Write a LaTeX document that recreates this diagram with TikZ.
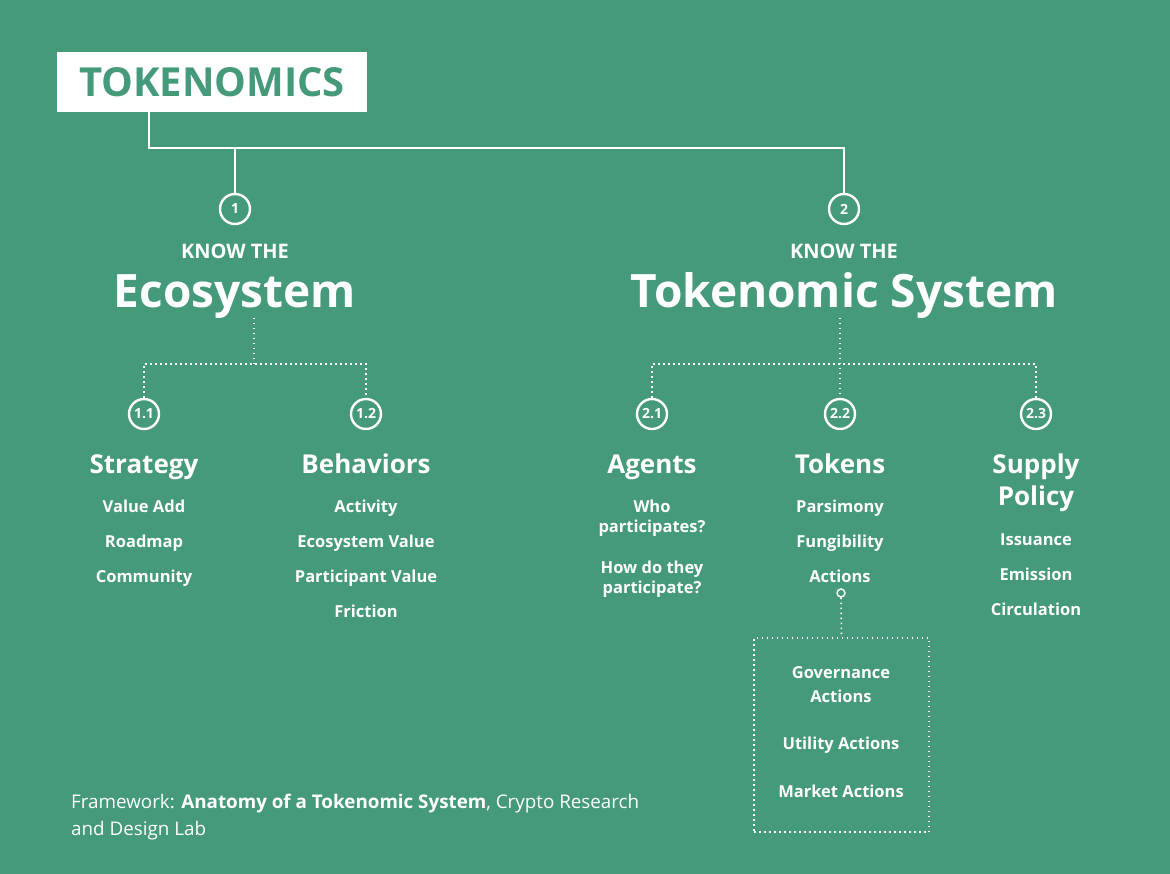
\documentclass[tikz,border=0pt]{standalone}
\usepackage{fontspec}
\setmainfont{Open Sans}
\usetikzlibrary{positioning}
\definecolor{tkgreen}{RGB}{68,154,121}

\begin{document}
\begin{tikzpicture}[x=1pt, y=-1pt,
		every node/.style = {text=white, align=center, inner sep=0pt},
		num/.style = {circle, draw=white, line width=2.4pt, minimum size=30pt,
				font=\bfseries\fontsize{14}{14}\selectfont},
		solidline/.style = {draw=white, line width=2.6pt},
		dotline/.style = {draw=white, line width=1.6pt, dash pattern=on 1.5pt off 3.5pt},
		know/.style = {anchor=base, font=\bfseries\fontsize{20}{20}\selectfont},
		big/.style = {anchor=base, font=\bfseries\fontsize{46}{46}\selectfont},
		head/.style = {anchor=base, font=\bfseries\fontsize{26}{32}\selectfont},
		item/.style = {anchor=base, font=\bfseries\fontsize{16.5}{20}\selectfont}]
	% background and margins
	\fill[tkgreen] (0,0) rectangle (1170,874);
	\useasboundingbox (0,0) rectangle (1170,874);

	\node[fill=white, text=tkgreen, minimum width=310pt, minimum height=60pt,
		font=\bfseries\fontsize{40}{40}\selectfont] (title) at (212,82) {TOKENOMICS};

	% level 1
	\node[num] (n1) at (235,209) {1};
	\node[num] (n2) at (844,209) {2};
	\coordinate (top2) at (844,148);
	\draw[solidline] ([xshift=92pt]title.south west) |- (top2) -- (n2.north);
	\draw[solidline] (n1.north) -- (n1.north |- top2);

	\node[know] (know1) at (235,259) {KNOW THE};
	\node[big] (eco) at (235,308) {Ecosystem};
	\node[know] (know2) at (844,259) {KNOW THE};
	\node[big] (toksys) at (844,308) {Tokenomic System};

	% level 2
	\node[num] (n11) at (144,414) {1.1};
	\node[num] (n12) at (366,414) {1.2};
	\node[num] (n21) at (652,414) {2.1};
	\node[num] (n22) at (840,414) {2.2};
	\node[num] (n23) at (1036,414) {2.3};

	\coordinate (eco fork) at (254,318);
	\coordinate (tok fork) at (840,318);
	\draw[dotline] (eco fork) -- ++(0,46) coordinate (eco bar);
	\draw[dotline] (n11.north) |- (eco bar) -| (n12.north);
	\draw[dotline] (tok fork) -- (n22.north);
	\draw[dotline] (n21.north) |- (tok fork |- eco bar) -| (n23.north);

	\node[head] (strategy) at (144,473) {Strategy};
	\node[head] (behaviors) at (366,473) {Behaviors};
	\node[head] (agents) at (652,473) {Agents};
	\node[head] (tokens) at (840,473) {Tokens};
	\node[head] (supply) at (1036,505) {Supply\\Policy};

	% items
	\foreach \txt [count=\i] in {Value Add, Roadmap, Community}
		\node[item] (strategy\i) at (144,477+35*\i) {\txt};
	\foreach \txt [count=\i] in {Activity, Ecosystem Value, Participant Value, Friction}
		\node[item] (behaviors\i) at (366,477+35*\i) {\txt};
	\foreach \txt [count=\i] in {Parsimony, Fungibility, Actions}
		\node[item] (tokens\i) at (840,477+35*\i) {\txt};
	\foreach \txt [count=\i] in {Issuance, Emission, Circulation}
		\node[item] (supply\i) at (1036,510+35*\i) {\txt};
	\node[item] (agents1) at (652,532) {Who\\participates?};
	\node[item] (agents2) at (652,593) {How do they\\participate?};

	% token actions
	\node[circle, draw=white, line width=1.4pt, minimum size=8pt] (hook) at (841,593) {};
	\node[draw=white, line width=1.6pt, dash pattern=on 1.5pt off 3.5pt,
		minimum width=175pt, minimum height=194pt] (actbox) at (841.5,735) {};
	\draw[dotline] (hook.south) -- (actbox.north);
	\node[item] (gov) at (841,702) {Governance\\[4pt]Actions};
	\node[item] (util) at (841,749) {Utility Actions};
	\node[item] (market) at (841,797) {Market Actions};

	% footer
	\node[anchor=base west, align=left, font=\fontsize{18.8}{27}\selectfont] (credit) at (71,835)
		{Framework: \textbf{Anatomy of a Tokenomic System}, Crypto Research\\and Design Lab};
\end{tikzpicture}
\end{document}
